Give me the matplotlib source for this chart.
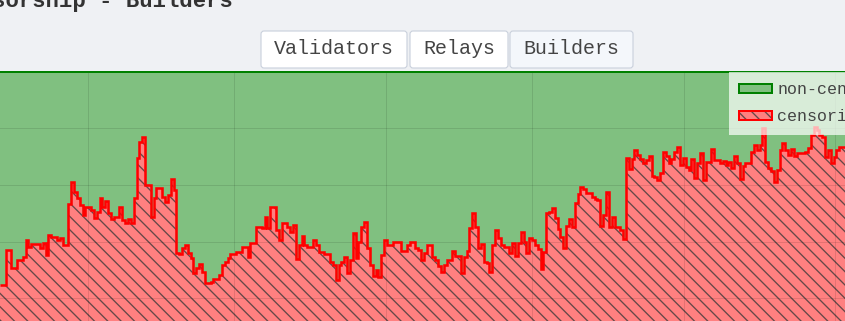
import matplotlib
matplotlib.use("Agg")
import matplotlib.pyplot as plt
import matplotlib.dates as mdates
from matplotlib.patches import Patch, FancyBboxPatch
from matplotlib.transforms import IdentityTransform
import numpy as np
import pandas as pd

title = "Censorship - Builders"
buttons = ["Validators", "Relays", "Builders"]
series_names = ["non-censoring", "censoring"]
start_date, end_date = "2023-03-14", "2023-09-03 01:00"

# share of blocks (%) from censoring builders
censoring = [
    24.6, 24.6, 37.0, 37.0, 30.6, 30.6, 33.5, 33.5, 34.5, 40.5, 38.1, 39.1,
    39.1, 39.1, 37.7, 39.5, 35.2, 42.3, 41.6, 41.6, 40.5, 41.2, 38.8, 38.8,
    53.3, 61.1, 57.5, 55.4, 52.9, 49.4, 52.2, 52.2, 51.2, 48.3, 50.4, 55.4,
    52.2, 54.3, 50.1, 48.0, 48.7, 48.7, 52.2, 47.6, 46.5, 48.0, 46.5, 55.4,
    69.6, 75.2, 77.0,
    60.0, 60.0, 48.7, 55.4, 58.9, 58.9, 55.8, 54.0, 56.5, 62.1, 58.2, 35.9,
    35.6, 37.7, 38.8, 35.9, 34.2, 28.8, 30.6, 32.0, 29.2, 25.3, 25.3, 25.7,
    26.7, 26.7, 28.1, 31.7, 32.7, 34.2, 35.6, 35.6, 36.3, 36.3, 38.1, 38.1,
    34.5, 39.5, 39.5, 45.1, 45.1, 44.8, 48.7, 44.8, 52.2, 52.2, 44.1, 40.5,
    46.5, 46.5, 45.1,
    43.4, 45.8, 33.8, 38.8, 41.9, 38.8, 38.1, 38.1, 40.5, 38.8, 36.3, 36.3,
    35.6, 35.6, 32.7, 31.7, 26.4, 31.7, 32.7, 34.5, 28.8, 33.5, 43.0, 34.2,
    39.8, 45.1, 46.9, 37.7, 31.7, 27.8, 29.9, 27.4, 35.2, 40.5, 38.8, 38.8,
    39.8, 39.8, 39.8, 36.6, 36.6, 38.8, 39.8, 39.8,
    37.7, 37.0, 33.5, 35.9, 38.8, 38.8, 34.5, 33.5, 31.3, 29.2, 31.7, 33.5,
    33.5, 36.6, 34.9, 34.9, 28.8, 34.5, 36.6, 44.8, 50.1, 45.1, 37.7, 39.1,
    32.7, 32.4, 29.2, 38.8, 44.1, 41.2, 38.8, 38.1, 38.1, 35.9, 39.5, 34.9,
    39.5, 43.4, 39.8, 35.9, 41.2, 40.5, 38.8, 37.3, 30.3, 36.3, 50.1, 50.4,
    51.9, 48.3, 44.5,
    41.6, 37.7, 45.5, 48.0, 45.1, 53.6, 56.8, 59.3, 58.6, 57.2, 57.2, 55.8,
    55.0, 54.7, 45.5, 49.4, 57.5, 45.1, 48.7, 45.1, 45.1, 44.1, 40.9, 69.6,
    65.7, 69.2, 72.4, 70.6, 69.2, 67.8, 68.9, 70.3, 63.2, 62.8, 61.8, 64.2,
    71.7, 70.3, 67.8, 69.2, 71.7, 73.5, 67.1, 69.6, 66.4, 65.3, 69.2, 62.5,
    67.8, 71.3,
    61.8, 68.1, 68.1, 72.7, 68.9, 68.9, 67.8, 68.5, 67.1, 68.1, 66.0, 70.3,
    67.8, 62.1, 66.7, 67.8, 67.8, 71.7, 74.2, 72.4, 74.2, 80.2, 68.1, 66.0,
    64.9, 61.1, 65.3, 72.4, 74.9, 72.4, 70.6, 72.7, 70.3, 71.3, 71.3, 71.3,
    71.7, 73.1, 77.7, 80.5, 79.5, 77.7, 77.0, 69.9, 72.4, 67.8, 69.9, 72.4,
    73.5, 73.5,
]

censoring = np.array(censoring)
non_censoring = 100 - censoring
edges = mdates.date2num(pd.date_range(start_date, end_date, periods=len(censoring) + 1))

W, H, DPI = 845, 321, 80
plt.rcParams["hatch.linewidth"] = 1.2
mono = "Liberation Mono"
hatch = "\\\\"

fig = plt.figure(figsize=(W / DPI, H / DPI), dpi=DPI, facecolor="#eff1f4")
ax = fig.add_axes([0, -0.1044, 1, 0.8832])
ax.set_facecolor("none")

# stacked areas
ax.stairs(censoring, edges, baseline=0, fill=True, facecolor="#ff8080",
          edgecolor="#664848", linewidth=0, hatch=hatch, zorder=1)
ax.stairs(censoring + non_censoring, edges, baseline=censoring, fill=True,
          facecolor="#80c080", linewidth=0, zorder=1)
ax.stairs(censoring + non_censoring, edges, baseline=None, color="green",
          linewidth=1.8, zorder=3)
ax.stairs(censoring, edges, baseline=None, color="red", linewidth=2.3, zorder=3)

ax.set_xlim(edges[0], edges[-1])
ax.set_ylim(0, 100.35)
ax.set_yticks([20, 40, 60, 80])
ax.xaxis.set_major_locator(mdates.MonthLocator())
ax.set_axisbelow(False)
ax.grid(True, color="black", alpha=0.1, linewidth=0.9)
ax.tick_params(length=0, labelbottom=False, labelleft=False)
for s in ax.spines.values():
    s.set_visible(False)

# legend (cut by the right edge, like the screenshot)
green_h = Patch(facecolor="#80c080", edgecolor="green", linewidth=1.8)
red_h = (Patch(facecolor="#ff8080", edgecolor="#664848", linewidth=0, hatch=hatch),
         Patch(facecolor="none", edgecolor="red", linewidth=1.8))
leg = ax.legend([green_h, red_h], series_names, loc="upper left",
                bbox_to_anchor=(729 / W, 1 - 72 / H), bbox_transform=fig.transFigure,
                borderaxespad=0, prop={"family": mono, "size": 15},
                handlelength=2.0, handleheight=0.45, handletextpad=0.3,
                labelspacing=0.75, borderpad=0.6,
                fancybox=False, framealpha=0.7, facecolor="white", edgecolor="none")
for t in leg.get_texts():
    t.set_color("#444444")
leg.set_zorder(5)

# title (cut at the top)
fig.text(233 / W, 1 - 7 / H, title, ha="right", va="baseline", family=mono,
         weight="bold", size=20, color="#333333")

# selector buttons
boxes = [(261, 407), (410, 508), (510, 633)]
for label, (x0, x1) in zip(buttons, boxes):
    fc = "#f4f7fb" if label == "Builders" else "white"
    fig.add_artist(FancyBboxPatch((x0, H - 68), x1 - x0, 37,
                                  boxstyle="round,pad=0,rounding_size=3",
                                  facecolor=fc, edgecolor="#c9d0dc", linewidth=1,
                                  transform=IdentityTransform()))
    fig.text((x0 + x1) / 2 / W, 1 - 48 / H, label, ha="center", va="center",
             family=mono, size=18, color="#444444")

fig.savefig("out.png", dpi=DPI, facecolor=fig.get_facecolor())
